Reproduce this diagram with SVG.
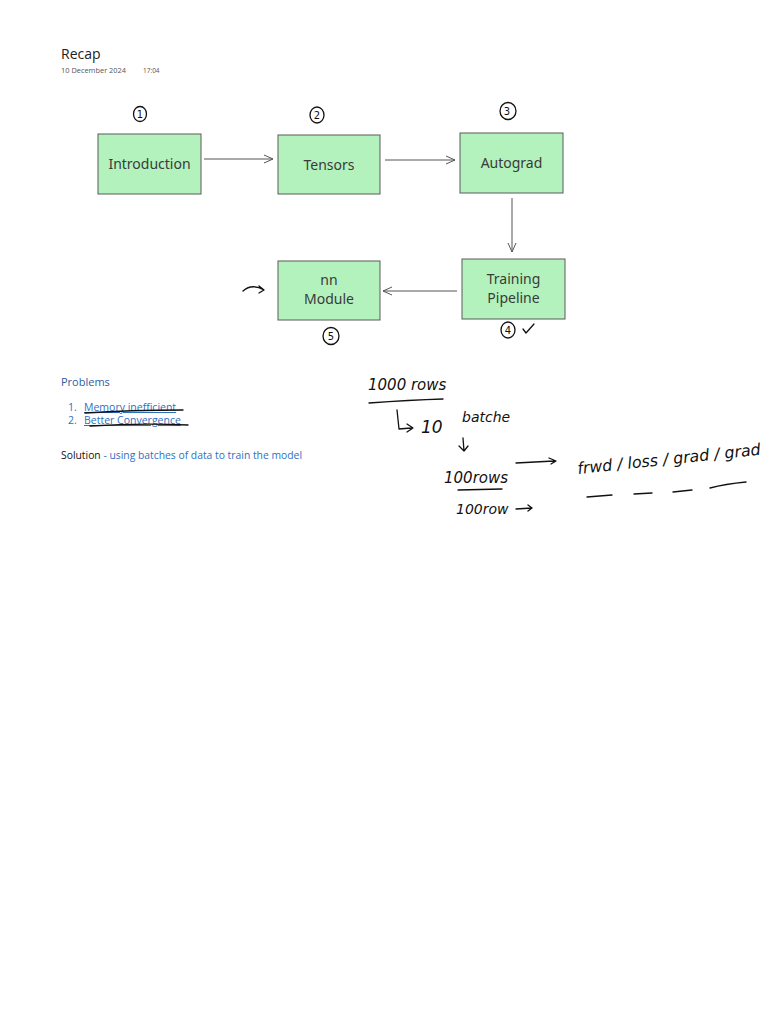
<svg xmlns="http://www.w3.org/2000/svg" width="768" height="1024" viewBox="0 0 768 1024">
<style>
.box{fill:#b3f2bc;stroke:#5a5a5a;stroke-width:1}
.lbl{font-family:"Noto Sans","Lato",sans-serif;font-size:14px;fill:#3a3a3a;text-anchor:middle}
.con{stroke:#555;stroke-width:1;fill:none}
.ink{stroke:#111;stroke-width:1.3;fill:none;stroke-linecap:round;stroke-linejoin:round}
.hw{font-family:"DejaVu Sans",sans-serif;font-style:italic;fill:#111;font-weight:normal}
.num{font-family:"DejaVu Sans",sans-serif;font-size:10px;fill:#111;text-anchor:middle}
.ms{font-family:"Open Sans","Liberation Sans",sans-serif}
</style>
<defs>
<marker id="ah" markerWidth="12" markerHeight="10" refX="10" refY="5" orient="auto" markerUnits="userSpaceOnUse">
<path d="M1,1 L10,5 L1,9" fill="none" stroke="#555" stroke-width="1"/>
</marker>
</defs>
<rect width="768" height="1024" fill="#fff"/>
<text x="61" y="59" class="ms" font-size="14" fill="#222">Recap</text>
<text x="61" y="73" class="ms" font-size="6.5" fill="#555" textLength="65" lengthAdjust="spacingAndGlyphs">10 December 2024</text>
<text x="143" y="73" class="ms" font-size="6.5" fill="#555">17:04</text>

<g id="connectors">
<line class="con" x1="204" y1="159" x2="273" y2="159" marker-end="url(#ah)"/>
<line class="con" x1="385" y1="160" x2="455" y2="160" marker-end="url(#ah)"/>
<line class="con" x1="512" y1="198" x2="512" y2="252" marker-end="url(#ah)"/>
<line class="con" x1="457" y1="291" x2="383" y2="291" marker-end="url(#ah)"/>
</g>

<g id="n-introduction"><rect class="box" x="98" y="134" width="103" height="60"/><text class="lbl" x="149.5" y="169">Introduction</text></g>
<g id="n-tensors"><rect class="box" x="278" y="135" width="102" height="59"/><text class="lbl" x="329" y="170">Tensors</text></g>
<g id="n-autograd"><rect class="box" x="460" y="133" width="103" height="60"/><text class="lbl" x="511.5" y="168">Autograd</text></g>
<g id="n-training"><rect class="box" x="462" y="259" width="103" height="60"/><text class="lbl" x="513.5" y="284">Training</text><text class="lbl" x="513.5" y="303">Pipeline</text></g>
<g id="n-nnmodule"><rect class="box" x="278" y="261" width="102" height="59"/><text class="lbl" x="329" y="285">nn</text><text class="lbl" x="329" y="304">Module</text></g>

<g id="annotations">
<ellipse class="ink" cx="140" cy="114" rx="6.5" ry="7.5"/><text class="num" x="140" y="118">1</text>
<ellipse class="ink" cx="317" cy="115" rx="7" ry="8"/><text class="num" x="317" y="119">2</text>
<ellipse class="ink" cx="508" cy="111" rx="8" ry="8.5"/><text class="num" x="507" y="115">3</text>
<ellipse class="ink" cx="508" cy="330" rx="7" ry="8"/><text class="num" x="508" y="334">4</text>
<path class="ink" d="M523,329 L526,333 L534,324"/>
<ellipse class="ink" cx="331" cy="336" rx="8" ry="8.5"/><text class="num" x="331" y="340">5</text>
<path class="ink" d="M243,291 Q252,283 264,290 M259,286 L264,290 L259,293"/>
</g>

<text x="61" y="386" class="ms" font-size="11" fill="#2e5e9e">Problems</text>
<g class="ms" font-size="10.5" fill="#2f6fc2">
<text x="68" y="411">1.</text>
<text x="84" y="411" text-decoration="underline">Memory inefficient</text>
<text x="68" y="424">2.</text>
<text x="84" y="424" text-decoration="underline">Better Convergence</text>
</g>
<path class="ink" d="M85,413 Q130,410 183,410 M90,426 Q140,423 188,425"/>
<text x="61" y="459" class="ms" font-size="10" fill="#111" textLength="241" lengthAdjust="spacingAndGlyphs">Solution <tspan fill="#2f6fc2">- using batches of data to train the model</tspan></text>

<g id="handwriting">
<text class="hw" x="368" y="390" font-size="15">1000 rows</text>
<path class="ink" d="M369,403 Q410,400 443,399"/>
<path class="ink" d="M397,410 L399,429 L411,428 M407,424 L413,428 L407,432"/>
<text class="hw" x="421" y="433" font-size="17">10</text>
<text class="hw" x="462" y="422" font-size="14">batche</text>
<path class="ink" d="M463,438 L464,451 M459,446 L464,451 L468,446"/>
<text class="hw" x="444" y="483" font-size="15">100rows</text>
<path class="ink" d="M516,463 L554,461 M549,458 L556,461 L551,464"/>
<path class="ink" d="M458,490 L502,489"/>
<text class="hw" x="456" y="514" font-size="14">100row</text>
<path class="ink" d="M516,509 L532,508 M528,505 L532,508 L528,511"/>
<text class="hw" x="578" y="474" font-size="16" textLength="184" lengthAdjust="spacingAndGlyphs" transform="rotate(-6 578 474)">frwd / loss / grad / grad</text>
<path class="ink" d="M587,497 L612,495 M634,494 L652,493 M673,492 L692,490 M710,488 Q725,484 746,482"/>
</g>
</svg>
